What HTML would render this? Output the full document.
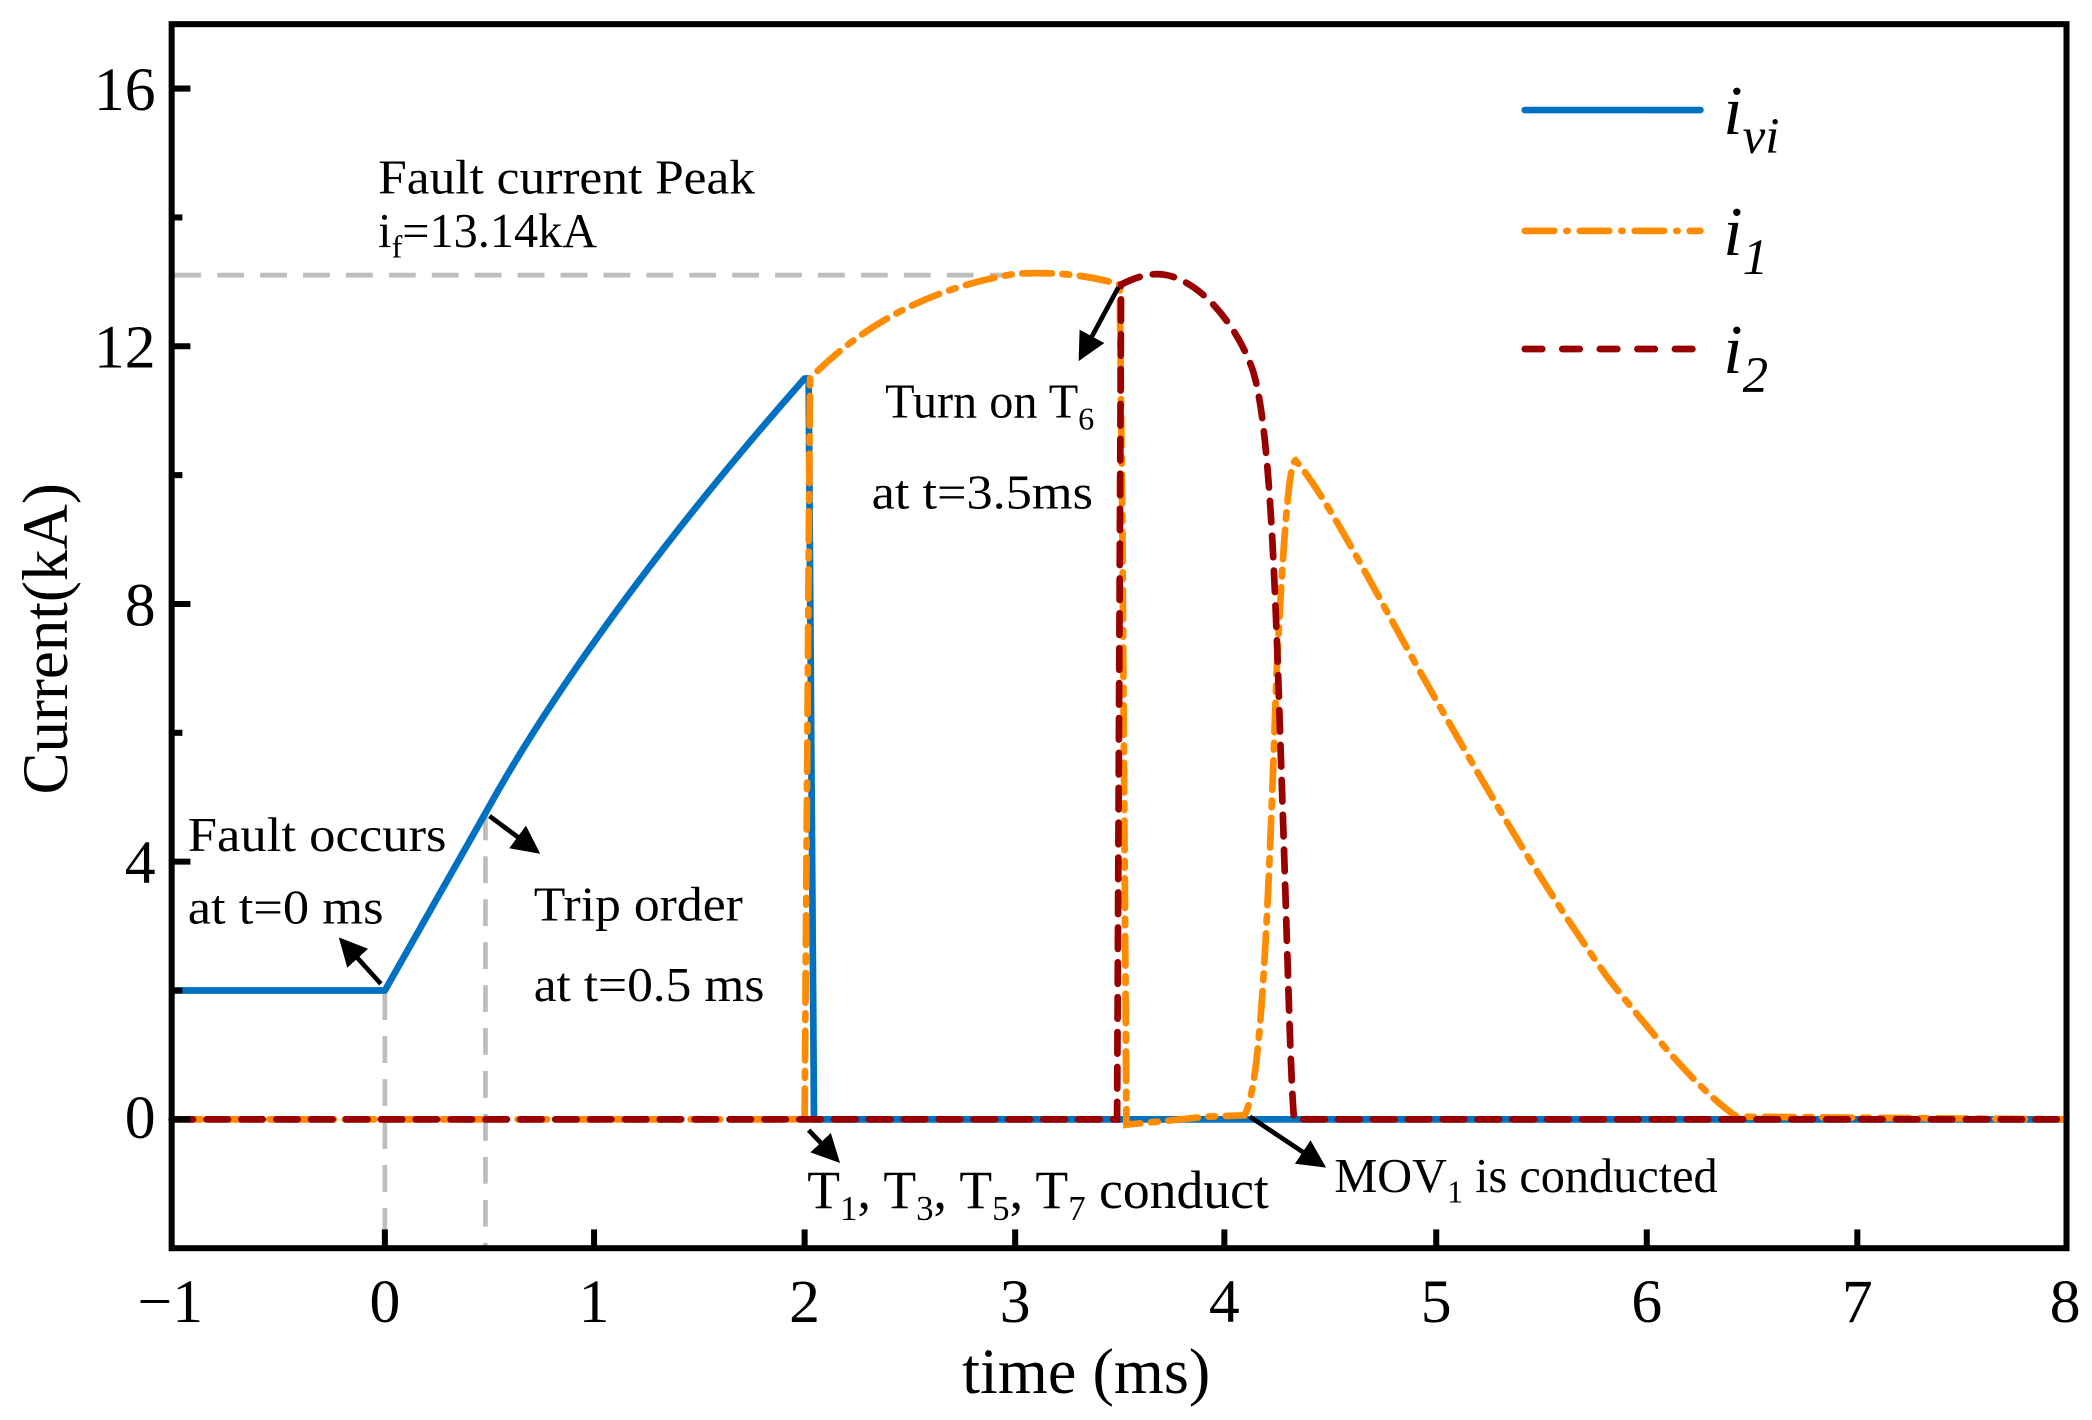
<!DOCTYPE html>
<html><head><meta charset="utf-8"><style>
html,body{margin:0;padding:0;background:#fff;}
svg{display:block;}
text{font-family:"Liberation Serif",serif;fill:#000;}
</style></head><body>
<svg width="2092" height="1420" viewBox="0 0 1560 1058" preserveAspectRatio="none" xmlns="http://www.w3.org/2000/svg">
<defs>
<marker id="ah" markerWidth="6" markerHeight="6" refX="5" refY="3" orient="auto" markerUnits="strokeWidth">
<path d="M0,0 L6,3 L0,6 Z" fill="#000"/>
</marker>
</defs>
<g stroke="#bdbdbd" stroke-width="3.5" stroke-dasharray="20,12" fill="none">
<line x1="130" y1="205" x2="757" y2="205"/>
<line x1="287" y1="740" x2="287" y2="930"/>
<line x1="362" y1="606" x2="362" y2="930"/>
</g>
<path d="M128,738 L287,738 L363,604 C415,510 500,395 600,282 L603,282 L607,834 L1541,834" fill="none" stroke="#0070C0" stroke-width="5" stroke-linejoin="round"/>
<path d="M128,834 L600,834 L604,282 C640,245 690,215 757,204 C790,202 815,206 835,212 L837,400 L840,838 L900,832 L928,831 C940,810 945,700 952,500 C958,380 962,345 966,343 C990,370 1030,450 1070,520 C1110,590 1150,660 1200,730 C1240,780 1270,815 1295,832 L1541,834" fill="none" stroke="#FF8C00" stroke-width="5" stroke-dasharray="22,8,5,8" stroke-linecap="round"/>
<path d="M128,834 L833,834 L836,212 C850,205 860,203 870,205 C895,210 920,240 932,270 C945,300 950,400 955,560 C960,700 962,800 965,834 L1541,834" fill="none" stroke="#990000" stroke-width="5" stroke-dasharray="16,10" stroke-linecap="round"/>
<rect x="128" y="18" width="1413" height="912" fill="none" stroke="#000" stroke-width="4.5"/>
<g stroke="#000" stroke-width="4.5">
<line x1="128" y1="66" x2="142" y2="66"/><line x1="128" y1="258" x2="142" y2="258"/>
<line x1="128" y1="450" x2="142" y2="450"/><line x1="128" y1="642" x2="142" y2="642"/>
<line x1="128" y1="834" x2="142" y2="834"/>
<line x1="128" y1="162" x2="136" y2="162"/><line x1="128" y1="354" x2="136" y2="354"/>
<line x1="128" y1="546" x2="136" y2="546"/><line x1="128" y1="738" x2="136" y2="738"/>
<line x1="287" y1="930" x2="287" y2="916"/><line x1="443" y1="930" x2="443" y2="916"/>
<line x1="600" y1="930" x2="600" y2="916"/><line x1="757" y1="930" x2="757" y2="916"/>
<line x1="913" y1="930" x2="913" y2="916"/><line x1="1071" y1="930" x2="1071" y2="916"/>
<line x1="1228" y1="930" x2="1228" y2="916"/><line x1="1385" y1="930" x2="1385" y2="916"/>
</g>
<g font-size="46" text-anchor="end">
<text x="116" y="82">16</text><text x="116" y="274">12</text>
<text x="116" y="466">8</text><text x="116" y="658">4</text><text x="116" y="848">0</text>
</g>
<g font-size="46" text-anchor="middle">
<text x="127" y="985">−1</text><text x="287" y="985">0</text><text x="443" y="985">1</text>
<text x="600" y="985">2</text><text x="757" y="985">3</text><text x="913" y="985">4</text>
<text x="1071" y="985">5</text><text x="1228" y="985">6</text><text x="1385" y="985">7</text>
<text x="1540" y="985">8</text>
<text x="810" y="1038" font-size="48" textLength="185" lengthAdjust="spacingAndGlyphs">time (ms)</text>
<text transform="translate(50,476) rotate(-90)" font-size="48" textLength="232" lengthAdjust="spacingAndGlyphs">Current(kA)</text>
</g>
<g font-size="36">
<text x="282" y="144" textLength="281" lengthAdjust="spacingAndGlyphs">Fault current Peak</text>
<text x="282" y="184">i<tspan font-size="24" dy="8">f</tspan><tspan dy="-8">=13.14kA</tspan></text>
<text x="660" y="311">Turn on T<tspan font-size="24" dy="9">6</tspan></text>
<text x="650" y="379" textLength="165" lengthAdjust="spacingAndGlyphs">at  t=3.5ms</text>
<text x="140" y="634" textLength="193" lengthAdjust="spacingAndGlyphs">Fault occurs</text>
<text x="140" y="688" textLength="146" lengthAdjust="spacingAndGlyphs">at t=0 ms</text>
<text x="398" y="686" textLength="156" lengthAdjust="spacingAndGlyphs">Trip order</text>
<text x="398" y="746" textLength="172" lengthAdjust="spacingAndGlyphs">at t=0.5 ms</text>
<text x="995" y="888">MOV<tspan font-size="24" dy="8">1</tspan><tspan dy="-8"> is conducted</tspan></text>
</g>
<text x="602" y="900" font-size="40">T<tspan font-size="26" dy="9">1</tspan><tspan dy="-9">, T</tspan><tspan font-size="26" dy="9">3</tspan><tspan dy="-9">, T</tspan><tspan font-size="26" dy="9">5</tspan><tspan dy="-9">, T</tspan><tspan font-size="26" dy="9">7</tspan><tspan dy="-9"> conduct</tspan></text>
<g stroke="#000" stroke-width="3.5" fill="none" marker-end="url(#ah)">
<line x1="284" y1="733" x2="255" y2="701"/>
<line x1="365" y1="608" x2="400" y2="634"/>
<line x1="834" y1="214" x2="806" y2="266"/>
<line x1="603" y1="842" x2="624" y2="864"/>
<line x1="932" y1="832" x2="986" y2="868"/>
</g>
<line x1="1137" y1="82" x2="1268" y2="82" stroke="#0070C0" stroke-width="5" stroke-linecap="round"/>
<line x1="1137" y1="172" x2="1268" y2="172" stroke="#FF8C00" stroke-width="5" stroke-dasharray="22,9,1,9" stroke-linecap="round"/>
<line x1="1137" y1="260" x2="1268" y2="260" stroke="#990000" stroke-width="5" stroke-dasharray="13,15" stroke-linecap="round"/>
<g font-size="52" font-style="italic">
<text x="1285" y="100">i<tspan font-size="38" dy="14">vi</tspan></text>
<text x="1285" y="190">i<tspan font-size="38" dy="14">1</tspan></text>
<text x="1285" y="278">i<tspan font-size="38" dy="14">2</tspan></text>
</g>
</svg>
</body></html>
